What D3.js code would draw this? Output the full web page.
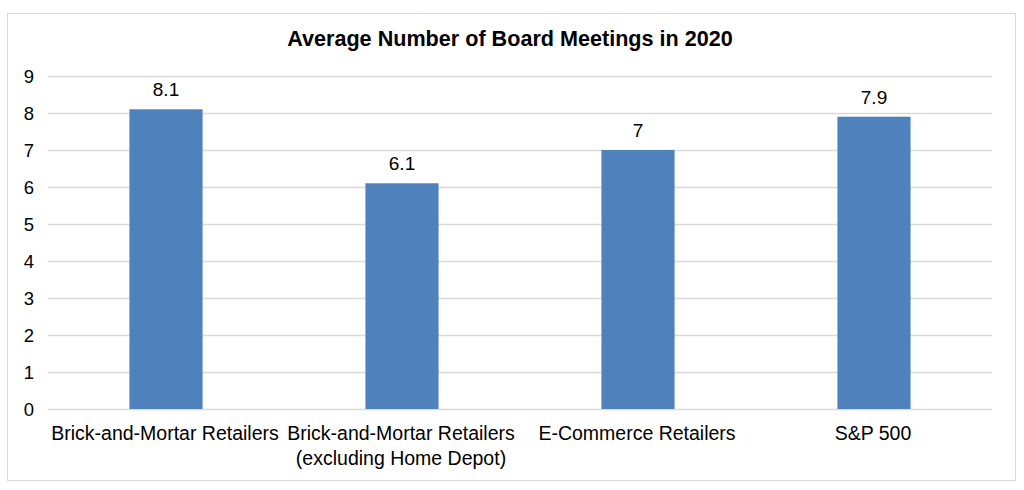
<!DOCTYPE html>
<html>
<head>
<meta charset="utf-8">
<script src="https://cdn.jsdelivr.net/npm/d3@7"></script>
<style>
  html, body { margin: 0; padding: 0; background: #fff; }
  svg { display: block; font-family: "Liberation Sans", Arial, sans-serif; }
</style>
</head>
<body>
<svg id="chart" width="1024" height="490"></svg>
<script>
// data
const categories = [
  ["Brick-and-Mortar Retailers"],
  ["Brick-and-Mortar Retailers", "(excluding Home Depot)"],
  ["E-Commerce Retailers"],
  ["S&P 500"]
];
const values = [8.1, 6.1, 7, 7.9];
const yTicks = [0, 1, 2, 3, 4, 5, 6, 7, 8, 9];
const title = "Average Number of Board Meetings in 2020";

const svg = d3.select("#chart");
const m = { l: 48, r: 32, t: 76, b: 81 };
const W = 1024, H = 490;

// outer frame
svg.append("rect")
  .attr("x", 7.5).attr("y", 13.5).attr("width", 1008).attr("height", 467)
  .attr("fill", "#fff").attr("stroke", "#d9d9d9").attr("stroke-width", 1);

svg.append("text")
  .attr("x", 510).attr("y", 46)
  .attr("text-anchor", "middle")
  .style("font-size", "21.6px").style("font-weight", "bold").attr("fill", "#000")
  .text(title);

const x = d3.scaleBand().domain(d3.range(values.length)).range([m.l, W - m.r]).padding(0);
const y = d3.scaleLinear().domain([0, 9]).range([H - m.b, m.t]);

// gridlines
svg.append("g").selectAll("line").data(yTicks).enter().append("line")
  .attr("x1", m.l).attr("x2", W - m.r)
  .attr("y1", (d) => Math.round(y(d)) + 0.5).attr("y2", (d) => Math.round(y(d)) + 0.5)
  .attr("stroke", "#d9d9d9").attr("stroke-width", 1.5);

// y tick labels
svg.append("g").selectAll("text").data(yTicks).enter().append("text")
  .attr("x", 34).attr("y", (d) => y(d) + 7)
  .attr("text-anchor", "end").style("font-size", "18.5px").attr("fill", "#000")
  .text((d) => d);

// bars
const bw = x.bandwidth() * 0.31;
svg.append("g").selectAll("rect").data(values).enter().append("rect")
  .attr("x", (d, i) => x(i) + x.bandwidth() / 2 - bw / 2)
  .attr("width", bw)
  .attr("y", (d) => y(d))
  .attr("height", (d) => y(0) - y(d))
  .attr("fill", "#4f81bd");

// value labels
svg.append("g").selectAll("text").data(values).enter().append("text")
  .attr("x", (d, i) => x(i) + x.bandwidth() / 2)
  .attr("y", (d) => y(d) - 13)
  .attr("text-anchor", "middle").style("font-size", "19px").attr("fill", "#000")
  .text((d) => d);

// category labels
const cat = svg.append("g").selectAll("text").data(categories).enter().append("text")
  .attr("text-anchor", "middle").style("font-size", "19.5px").attr("fill", "#000");
cat.each(function (lines, i) {
  d3.select(this).selectAll("tspan").data(lines).enter().append("tspan")
    .attr("x", x(i) + x.bandwidth() / 2 - 1)
    .attr("y", (d, j) => y(0) + 31 + j * 25)
    .text((d) => d);
});
</script>
</body>
</html>
